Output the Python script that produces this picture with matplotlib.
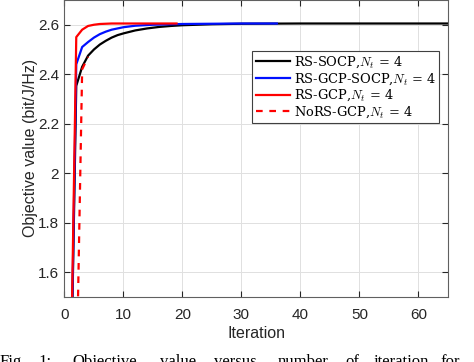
import matplotlib
matplotlib.use("Agg")
import matplotlib.pyplot as plt

# data
it_socp = [1, 2, 3, 4, 5, 6, 7, 8, 9, 10, 12, 14, 16, 18, 20, 25, 30, 40, 50, 65]
val_socp = [1.0, 2.353, 2.43, 2.475, 2.50, 2.52, 2.535, 2.548, 2.558, 2.565,
            2.577, 2.585, 2.591, 2.595, 2.598, 2.602, 2.604, 2.605, 2.605, 2.605]

it_gcp_socp = [1, 2, 3, 4, 5, 6, 7, 8, 10, 12, 15, 20, 25, 30, 36]
val_gcp_socp = [1.0, 2.44, 2.51, 2.53, 2.548, 2.562, 2.572, 2.58, 2.59, 2.596,
                2.60, 2.603, 2.604, 2.605, 2.605]

it_gcp = [1, 2, 3, 4, 5, 6, 8, 10, 15, 19]
val_gcp = [1.05, 2.55, 2.58, 2.595, 2.60, 2.603, 2.605, 2.605, 2.605, 2.605]

it_nors = [2, 3, 4]
val_nors = [1.1, 2.42, 2.47]

labels = [r"RS-SOCP,$N_t$ = 4", r"RS-GCP-SOCP,$N_t$ = 4",
          r"RS-GCP,$N_t$ = 4", r"NoRS-GCP,$N_t$ = 4"]

caption_words = ["Fig.", "1:", "Objective", "value", "versus", "number", "of", "iteration", "for"]
caption_x = [0, 38, 72, 160, 214, 278, 345, 374, 440]

plt.rcParams["font.family"] = ["Liberation Sans", "DejaVu Sans"]
plt.rcParams["mathtext.fontset"] = "cm"

fig = plt.figure(figsize=(4.74, 3.62), dpi=100)
ax = fig.add_axes([0.136, 0.180, 0.809, 0.820])

ax.plot(it_socp, val_socp, color="black", lw=1.6, label=labels[0])
ax.plot(it_gcp_socp, val_gcp_socp, color="#0010ff", lw=1.6, label=labels[1])
ax.plot(it_gcp, val_gcp, color="#ff0000", lw=1.6, label=labels[2])
ax.plot(it_nors, val_nors, color="#ff0000", lw=1.6, ls=(0, (3, 3)), label=labels[3])

ax.set_xlim(0, 65)
ax.set_ylim(1.5, 2.7)
ax.set_xticks([0, 10, 20, 30, 40, 50, 60])
ax.set_yticks([1.6, 1.8, 2.0, 2.2, 2.4, 2.6])
ax.set_yticklabels(["1.6", "1.8", "2", "2.2", "2.4", "2.6"])
ax.grid(True, color="#e0e0e0", lw=0.7)
ax.tick_params(direction="in", top=True, right=True, labelsize=11,
               colors="#262626", length=4)
ax.tick_params(axis="x", pad=8)
ax.tick_params(axis="y", pad=4)
for s in ax.spines.values():
    s.set_color("#606060")
    s.set_linewidth(0.8)

ax.set_xlabel("Iteration", fontsize=11.5, color="#262626", labelpad=3)
ax.set_ylabel("Objective value (bit/J/Hz)", fontsize=11.5, color="#262626", labelpad=0)

leg = ax.legend(loc="upper right", bbox_to_anchor=(0.977, 0.828),
                prop={"family": "DejaVu Serif", "size": 9.4},
                fancybox=False, framealpha=1, edgecolor="#404040",
                handlelength=2.6, handletextpad=0.3, borderpad=0.25,
                labelspacing=0.1, borderaxespad=0)
leg.get_frame().set_linewidth(0.8)

for w, x in zip(caption_words, caption_x):
    fig.text(x / 474, 1 - 354 / 362, w, ha="left", va="top",
             fontsize=12, family="Liberation Serif")

fig.savefig("out.png", dpi=100)
